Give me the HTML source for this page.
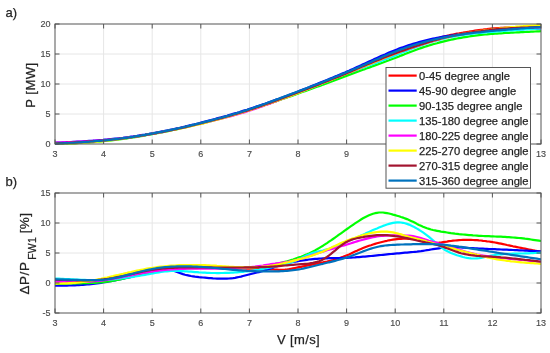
<!DOCTYPE html>
<html><head><meta charset="utf-8"><style>
html,body{margin:0;padding:0;background:#fff;}
body{width:550px;height:353px;overflow:hidden;}
svg{display:block;filter:blur(0.3px);}
text{stroke:#2a2a2a;stroke-width:0.25px;}
text.tk{stroke:#4a4a4a;stroke-width:0.15px;}
</style></head><body>
<svg width="550" height="353" viewBox="0 0 550 353" font-family='"Liberation Sans", Arial, sans-serif'>
<defs>
<clipPath id="c1"><rect x="55.0" y="23" width="486.0" height="122"/></clipPath>
<clipPath id="c2"><rect x="55.0" y="192" width="486.0" height="122"/></clipPath>
</defs>
<rect width="550" height="353" fill="#fff"/>
<text x="5.6" y="16.5" font-size="13" fill="#222">a)</text>
<text x="5.6" y="185.5" font-size="13" fill="#222">b)</text>
<line x1="103.6" y1="24" x2="103.6" y2="144" stroke="#e6e6e6" stroke-width="1"/>
<line x1="152.2" y1="24" x2="152.2" y2="144" stroke="#e6e6e6" stroke-width="1"/>
<line x1="200.8" y1="24" x2="200.8" y2="144" stroke="#e6e6e6" stroke-width="1"/>
<line x1="249.4" y1="24" x2="249.4" y2="144" stroke="#e6e6e6" stroke-width="1"/>
<line x1="298" y1="24" x2="298" y2="144" stroke="#e6e6e6" stroke-width="1"/>
<line x1="346.6" y1="24" x2="346.6" y2="144" stroke="#e6e6e6" stroke-width="1"/>
<line x1="395.2" y1="24" x2="395.2" y2="144" stroke="#e6e6e6" stroke-width="1"/>
<line x1="443.8" y1="24" x2="443.8" y2="144" stroke="#e6e6e6" stroke-width="1"/>
<line x1="492.4" y1="24" x2="492.4" y2="144" stroke="#e6e6e6" stroke-width="1"/>
<line x1="55.0" y1="114" x2="541.0" y2="114" stroke="#e6e6e6" stroke-width="1"/>
<line x1="55.0" y1="84" x2="541.0" y2="84" stroke="#e6e6e6" stroke-width="1"/>
<line x1="55.0" y1="54" x2="541.0" y2="54" stroke="#e6e6e6" stroke-width="1"/>
<g clip-path="url(#c1)" fill="none" stroke-width="2.2" stroke-linejoin="round">
<path d="M55 143.4 L57 143.3 L59 143.2 L61 143.1 L63 143.1 L65 143 L67 142.9 L69 142.8 L71 142.7 L73 142.6 L75 142.4 L77 142.3 L79 142.2 L81 142.1 L83 142 L85 141.8 L87 141.7 L89 141.6 L91 141.4 L93 141.3 L95 141.1 L97 141 L99 140.8 L101 140.6 L103 140.5 L105 140.3 L107 140.1 L109 139.9 L111 139.7 L113 139.5 L115 139.3 L117 139.1 L119 138.8 L121 138.6 L123 138.3 L125 138.1 L127 137.8 L129 137.6 L131 137.3 L133 137 L135 136.7 L137 136.4 L139 136.1 L141 135.7 L143 135.4 L145 135.1 L147 134.7 L149 134.4 L151 134 L153 133.7 L155 133.3 L157 132.9 L159 132.5 L161 132.2 L163 131.8 L165 131.4 L167 131 L169 130.6 L171 130.2 L173 129.7 L175 129.3 L177 128.9 L179 128.4 L181 128 L183 127.5 L185 127.1 L187 126.6 L189 126.1 L191 125.7 L193 125.2 L195 124.7 L197 124.2 L199 123.7 L201 123.3 L203 122.8 L205 122.3 L207 121.8 L209 121.3 L211 120.8 L213 120.3 L215 119.8 L217 119.2 L219 118.7 L221 118.2 L223 117.7 L225 117.1 L227 116.6 L229 116.1 L231 115.5 L233 115 L235 114.4 L237 113.8 L239 113.2 L241 112.7 L243 112.1 L245 111.5 L247 110.8 L249 110.2 L251 109.6 L253 109 L255 108.3 L257 107.6 L259 107 L261 106.3 L263 105.6 L265 104.9 L267 104.3 L269 103.6 L271 102.9 L273 102.1 L275 101.4 L277 100.7 L279 100 L281 99.3 L283 98.6 L285 97.8 L287 97.1 L289 96.4 L291 95.6 L293 94.9 L295 94.1 L297 93.4 L299 92.6 L301 91.9 L303 91.1 L305 90.3 L307 89.6 L309 88.8 L311 88.1 L313 87.3 L315 86.5 L317 85.7 L319 85 L321 84.2 L323 83.4 L325 82.7 L327 81.9 L329 81.1 L331 80.3 L333 79.6 L335 78.8 L337 78 L339 77.2 L341 76.4 L343 75.6 L345 74.8 L347 73.9 L349 73.1 L351 72.3 L353 71.4 L355 70.6 L357 69.7 L359 68.8 L361 68 L363 67.1 L365 66.2 L367 65.3 L369 64.4 L371 63.6 L373 62.7 L375 61.8 L377 60.9 L379 60 L381 59.1 L383 58.3 L385 57.4 L387 56.5 L389 55.7 L391 54.8 L393 54 L395 53.2 L397 52.4 L399 51.6 L401 50.8 L403 50 L405 49.3 L407 48.5 L409 47.8 L411 47.1 L413 46.4 L415 45.7 L417 45 L419 44.3 L421 43.6 L423 42.9 L425 42.2 L427 41.6 L429 40.9 L431 40.3 L433 39.6 L435 39 L437 38.5 L439 37.9 L441 37.3 L443 36.8 L445 36.3 L447 35.8 L449 35.4 L451 34.9 L453 34.5 L455 34.1 L457 33.7 L459 33.4 L461 33 L463 32.7 L465 32.3 L467 32 L469 31.7 L471 31.3 L473 31 L475 30.7 L477 30.4 L479 30.1 L481 29.8 L483 29.6 L485 29.3 L487 29.1 L489 28.8 L491 28.6 L493 28.4 L495 28.3 L497 28.1 L499 28 L501 27.9 L503 27.8 L505 27.7 L507 27.6 L509 27.5 L511 27.5 L513 27.4 L515 27.3 L517 27.3 L519 27.2 L521 27.2 L523 27.1 L525 27.1 L527 27 L529 27 L531 26.9 L533 26.8 L535 26.7 L537 26.6 L539 26.5 L541 26.4" stroke="#ff0000"/>
<path d="M55 142.8 L57 142.7 L59 142.6 L61 142.5 L63 142.4 L65 142.3 L67 142.2 L69 142.1 L71 142 L73 141.9 L75 141.8 L77 141.7 L79 141.6 L81 141.5 L83 141.3 L85 141.2 L87 141.1 L89 140.9 L91 140.8 L93 140.7 L95 140.5 L97 140.3 L99 140.2 L101 140 L103 139.9 L105 139.7 L107 139.5 L109 139.3 L111 139.1 L113 138.9 L115 138.7 L117 138.5 L119 138.3 L121 138 L123 137.8 L125 137.5 L127 137.3 L129 137 L131 136.7 L133 136.5 L135 136.2 L137 135.9 L139 135.5 L141 135.2 L143 134.9 L145 134.6 L147 134.2 L149 133.9 L151 133.5 L153 133.2 L155 132.8 L157 132.4 L159 132.1 L161 131.7 L163 131.3 L165 130.9 L167 130.5 L169 130.1 L171 129.7 L173 129.3 L175 128.8 L177 128.4 L179 128 L181 127.5 L183 127 L185 126.6 L187 126.1 L189 125.6 L191 125.1 L193 124.7 L195 124.2 L197 123.7 L199 123.2 L201 122.6 L203 122.1 L205 121.6 L207 121.1 L209 120.6 L211 120.1 L213 119.5 L215 119 L217 118.4 L219 117.9 L221 117.4 L223 116.8 L225 116.2 L227 115.7 L229 115.1 L231 114.5 L233 113.9 L235 113.3 L237 112.8 L239 112.2 L241 111.5 L243 110.9 L245 110.3 L247 109.7 L249 109 L251 108.4 L253 107.7 L255 107.1 L257 106.4 L259 105.7 L261 105 L263 104.3 L265 103.7 L267 103 L269 102.2 L271 101.5 L273 100.8 L275 100.1 L277 99.4 L279 98.7 L281 97.9 L283 97.2 L285 96.4 L287 95.7 L289 94.9 L291 94.2 L293 93.4 L295 92.7 L297 91.9 L299 91.1 L301 90.3 L303 89.5 L305 88.7 L307 88 L309 87.2 L311 86.3 L313 85.5 L315 84.7 L317 83.9 L319 83.1 L321 82.3 L323 81.5 L325 80.7 L327 79.9 L329 79.1 L331 78.2 L333 77.4 L335 76.6 L337 75.8 L339 74.9 L341 74.1 L343 73.2 L345 72.4 L347 71.5 L349 70.7 L351 69.8 L353 68.9 L355 68 L357 67.1 L359 66.2 L361 65.3 L363 64.3 L365 63.4 L367 62.5 L369 61.6 L371 60.7 L373 59.8 L375 58.8 L377 57.9 L379 57 L381 56.1 L383 55.2 L385 54.4 L387 53.5 L389 52.6 L391 51.8 L393 51 L395 50.2 L397 49.4 L399 48.6 L401 47.9 L403 47.2 L405 46.5 L407 45.8 L409 45.1 L411 44.5 L413 43.9 L415 43.3 L417 42.7 L419 42.1 L421 41.6 L423 41.1 L425 40.6 L427 40.1 L429 39.6 L431 39.1 L433 38.7 L435 38.3 L437 37.9 L439 37.5 L441 37.1 L443 36.7 L445 36.4 L447 36.1 L449 35.8 L451 35.5 L453 35.2 L455 34.9 L457 34.6 L459 34.4 L461 34.1 L463 33.9 L465 33.7 L467 33.4 L469 33.2 L471 33 L473 32.8 L475 32.5 L477 32.3 L479 32.1 L481 31.9 L483 31.7 L485 31.5 L487 31.4 L489 31.2 L491 31 L493 30.9 L495 30.7 L497 30.5 L499 30.4 L501 30.3 L503 30.1 L505 30 L507 29.9 L509 29.8 L511 29.7 L513 29.6 L515 29.5 L517 29.4 L519 29.3 L521 29.2 L523 29.1 L525 29 L527 29 L529 28.9 L531 28.8 L533 28.8 L535 28.7 L537 28.6 L539 28.6 L541 28.5" stroke="#0000ff"/>
<path d="M55 144 L57 144 L59 143.9 L61 143.8 L63 143.8 L65 143.7 L67 143.6 L69 143.5 L71 143.5 L73 143.4 L75 143.3 L77 143.1 L79 143 L81 142.9 L83 142.8 L85 142.7 L87 142.5 L89 142.4 L91 142.2 L93 142.1 L95 141.9 L97 141.7 L99 141.6 L101 141.4 L103 141.2 L105 141 L107 140.8 L109 140.6 L111 140.3 L113 140.1 L115 139.9 L117 139.6 L119 139.4 L121 139.1 L123 138.9 L125 138.6 L127 138.3 L129 138 L131 137.7 L133 137.4 L135 137.1 L137 136.8 L139 136.4 L141 136.1 L143 135.8 L145 135.4 L147 135 L149 134.7 L151 134.3 L153 134 L155 133.6 L157 133.2 L159 132.8 L161 132.4 L163 132.1 L165 131.7 L167 131.3 L169 130.9 L171 130.4 L173 130 L175 129.6 L177 129.2 L179 128.7 L181 128.3 L183 127.8 L185 127.4 L187 126.9 L189 126.5 L191 126 L193 125.5 L195 125 L197 124.5 L199 124 L201 123.6 L203 123.1 L205 122.5 L207 122 L209 121.5 L211 121 L213 120.5 L215 120 L217 119.4 L219 118.9 L221 118.4 L223 117.8 L225 117.3 L227 116.7 L229 116.2 L231 115.6 L233 115 L235 114.4 L237 113.9 L239 113.3 L241 112.7 L243 112.1 L245 111.5 L247 110.8 L249 110.2 L251 109.6 L253 109 L255 108.3 L257 107.7 L259 107 L261 106.3 L263 105.7 L265 105 L267 104.3 L269 103.7 L271 103 L273 102.3 L275 101.6 L277 100.9 L279 100.2 L281 99.5 L283 98.8 L285 98.1 L287 97.5 L289 96.8 L291 96.1 L293 95.4 L295 94.7 L297 94 L299 93.2 L301 92.5 L303 91.8 L305 91.1 L307 90.4 L309 89.7 L311 89 L313 88.3 L315 87.5 L317 86.8 L319 86.1 L321 85.4 L323 84.6 L325 83.9 L327 83.2 L329 82.4 L331 81.7 L333 81 L335 80.2 L337 79.5 L339 78.7 L341 78 L343 77.2 L345 76.5 L347 75.8 L349 75 L351 74.3 L353 73.5 L355 72.8 L357 72 L359 71.3 L361 70.5 L363 69.8 L365 69.1 L367 68.3 L369 67.6 L371 66.9 L373 66.1 L375 65.4 L377 64.7 L379 63.9 L381 63.2 L383 62.5 L385 61.7 L387 61 L389 60.3 L391 59.5 L393 58.7 L395 58 L397 57.2 L399 56.4 L401 55.6 L403 54.9 L405 54.1 L407 53.3 L409 52.5 L411 51.7 L413 51 L415 50.2 L417 49.5 L419 48.8 L421 48.1 L423 47.4 L425 46.7 L427 46.1 L429 45.5 L431 44.9 L433 44.3 L435 43.7 L437 43.2 L439 42.6 L441 42.1 L443 41.6 L445 41.1 L447 40.6 L449 40.2 L451 39.7 L453 39.3 L455 38.9 L457 38.5 L459 38.1 L461 37.8 L463 37.4 L465 37.1 L467 36.8 L469 36.5 L471 36.2 L473 35.9 L475 35.7 L477 35.4 L479 35.2 L481 35 L483 34.7 L485 34.5 L487 34.4 L489 34.2 L491 34 L493 33.9 L495 33.7 L497 33.6 L499 33.4 L501 33.3 L503 33.2 L505 33 L507 32.9 L509 32.8 L511 32.7 L513 32.6 L515 32.5 L517 32.4 L519 32.3 L521 32.2 L523 32.1 L525 32 L527 31.9 L529 31.8 L531 31.7 L533 31.6 L535 31.5 L537 31.4 L539 31.3 L541 31.2" stroke="#00ff00"/>
<path d="M55 143.7 L57 143.6 L59 143.6 L61 143.5 L63 143.4 L65 143.3 L67 143.2 L69 143.1 L71 143 L73 142.9 L75 142.8 L77 142.7 L79 142.6 L81 142.5 L83 142.3 L85 142.2 L87 142.1 L89 141.9 L91 141.8 L93 141.6 L95 141.5 L97 141.3 L99 141.1 L101 140.9 L103 140.8 L105 140.6 L107 140.4 L109 140.2 L111 140 L113 139.7 L115 139.5 L117 139.3 L119 139 L121 138.8 L123 138.5 L125 138.3 L127 138 L129 137.7 L131 137.4 L133 137.1 L135 136.8 L137 136.5 L139 136.2 L141 135.9 L143 135.5 L145 135.2 L147 134.8 L149 134.5 L151 134.1 L153 133.8 L155 133.4 L157 133 L159 132.7 L161 132.3 L163 131.9 L165 131.5 L167 131.1 L169 130.7 L171 130.3 L173 129.9 L175 129.5 L177 129.1 L179 128.7 L181 128.2 L183 127.8 L185 127.3 L187 126.9 L189 126.4 L191 125.9 L193 125.5 L195 125 L197 124.5 L199 124 L201 123.6 L203 123.1 L205 122.6 L207 122.1 L209 121.6 L211 121.1 L213 120.5 L215 120 L217 119.5 L219 119 L221 118.4 L223 117.9 L225 117.4 L227 116.8 L229 116.2 L231 115.7 L233 115.1 L235 114.5 L237 113.9 L239 113.3 L241 112.7 L243 112.1 L245 111.5 L247 110.9 L249 110.2 L251 109.6 L253 108.9 L255 108.2 L257 107.6 L259 106.9 L261 106.2 L263 105.5 L265 104.8 L267 104.1 L269 103.4 L271 102.6 L273 101.9 L275 101.2 L277 100.5 L279 99.7 L281 99 L283 98.3 L285 97.5 L287 96.8 L289 96 L291 95.3 L293 94.6 L295 93.8 L297 93.1 L299 92.3 L301 91.6 L303 90.8 L305 90.1 L307 89.3 L309 88.6 L311 87.8 L313 87.1 L315 86.3 L317 85.5 L319 84.7 L321 83.9 L323 83.1 L325 82.3 L327 81.5 L329 80.7 L331 79.8 L333 79 L335 78.2 L337 77.3 L339 76.5 L341 75.7 L343 74.9 L345 74.1 L347 73.3 L349 72.6 L351 71.9 L353 71.1 L355 70.4 L357 69.7 L359 69 L361 68.3 L363 67.6 L365 66.9 L367 66.2 L369 65.5 L371 64.8 L373 64 L375 63.3 L377 62.6 L379 61.8 L381 61.1 L383 60.3 L385 59.5 L387 58.8 L389 58 L391 57.2 L393 56.4 L395 55.6 L397 54.8 L399 54 L401 53.1 L403 52.3 L405 51.5 L407 50.7 L409 49.9 L411 49.1 L413 48.3 L415 47.6 L417 46.8 L419 46.1 L421 45.4 L423 44.7 L425 44 L427 43.4 L429 42.7 L431 42.1 L433 41.5 L435 41 L437 40.4 L439 39.9 L441 39.4 L443 38.9 L445 38.4 L447 38 L449 37.5 L451 37.1 L453 36.7 L455 36.3 L457 35.9 L459 35.6 L461 35.3 L463 34.9 L465 34.6 L467 34.3 L469 34.1 L471 33.8 L473 33.6 L475 33.4 L477 33.2 L479 33 L481 32.8 L483 32.6 L485 32.4 L487 32.2 L489 32.1 L491 31.9 L493 31.8 L495 31.6 L497 31.4 L499 31.3 L501 31.1 L503 31 L505 30.8 L507 30.7 L509 30.5 L511 30.4 L513 30.3 L515 30.1 L517 30 L519 29.8 L521 29.7 L523 29.6 L525 29.4 L527 29.3 L529 29.2 L531 29.1 L533 29 L535 28.8 L537 28.7 L539 28.6 L541 28.5" stroke="#00ffff"/>
<path d="M55 142.7 L57 142.6 L59 142.5 L61 142.5 L63 142.4 L65 142.3 L67 142.3 L69 142.2 L71 142.1 L73 142 L75 141.9 L77 141.8 L79 141.7 L81 141.6 L83 141.5 L85 141.4 L87 141.3 L89 141.1 L91 141 L93 140.9 L95 140.8 L97 140.6 L99 140.5 L101 140.3 L103 140.1 L105 140 L107 139.8 L109 139.6 L111 139.4 L113 139.3 L115 139.1 L117 138.9 L119 138.6 L121 138.4 L123 138.2 L125 137.9 L127 137.7 L129 137.4 L131 137.2 L133 136.9 L135 136.6 L137 136.3 L139 136 L141 135.7 L143 135.4 L145 135 L147 134.7 L149 134.4 L151 134 L153 133.7 L155 133.3 L157 132.9 L159 132.6 L161 132.2 L163 131.8 L165 131.4 L167 131 L169 130.6 L171 130.2 L173 129.8 L175 129.4 L177 129 L179 128.6 L181 128.1 L183 127.7 L185 127.2 L187 126.8 L189 126.3 L191 125.9 L193 125.4 L195 125 L197 124.5 L199 124 L201 123.6 L203 123.1 L205 122.6 L207 122.1 L209 121.7 L211 121.2 L213 120.7 L215 120.2 L217 119.7 L219 119.2 L221 118.7 L223 118.2 L225 117.7 L227 117.2 L229 116.6 L231 116.1 L233 115.6 L235 115 L237 114.4 L239 113.9 L241 113.3 L243 112.7 L245 112.1 L247 111.5 L249 110.8 L251 110.2 L253 109.5 L255 108.9 L257 108.2 L259 107.5 L261 106.8 L263 106.1 L265 105.3 L267 104.6 L269 103.9 L271 103.1 L273 102.4 L275 101.6 L277 100.9 L279 100.1 L281 99.3 L283 98.6 L285 97.8 L287 97 L289 96.2 L291 95.4 L293 94.7 L295 93.9 L297 93.1 L299 92.3 L301 91.5 L303 90.7 L305 89.9 L307 89.1 L309 88.4 L311 87.6 L313 86.8 L315 86 L317 85.2 L319 84.4 L321 83.6 L323 82.8 L325 82 L327 81.2 L329 80.5 L331 79.7 L333 78.9 L335 78.1 L337 77.3 L339 76.5 L341 75.7 L343 74.9 L345 74.1 L347 73.3 L349 72.5 L351 71.7 L353 70.9 L355 70.1 L357 69.3 L359 68.5 L361 67.7 L363 66.9 L365 66 L367 65.2 L369 64.4 L371 63.6 L373 62.7 L375 61.9 L377 61.1 L379 60.2 L381 59.4 L383 58.6 L385 57.7 L387 56.9 L389 56.1 L391 55.3 L393 54.5 L395 53.8 L397 53 L399 52.3 L401 51.6 L403 50.8 L405 50.1 L407 49.5 L409 48.8 L411 48.1 L413 47.4 L415 46.8 L417 46.1 L419 45.5 L421 44.8 L423 44.2 L425 43.5 L427 42.9 L429 42.3 L431 41.7 L433 41.1 L435 40.5 L437 39.9 L439 39.4 L441 38.8 L443 38.3 L445 37.8 L447 37.3 L449 36.9 L451 36.4 L453 36 L455 35.6 L457 35.2 L459 34.9 L461 34.5 L463 34.1 L465 33.8 L467 33.5 L469 33.2 L471 32.8 L473 32.5 L475 32.2 L477 31.9 L479 31.7 L481 31.4 L483 31.1 L485 30.9 L487 30.6 L489 30.4 L491 30.1 L493 29.9 L495 29.7 L497 29.5 L499 29.4 L501 29.2 L503 29 L505 28.9 L507 28.8 L509 28.6 L511 28.5 L513 28.4 L515 28.3 L517 28.2 L519 28.1 L521 28 L523 27.9 L525 27.8 L527 27.8 L529 27.7 L531 27.6 L533 27.6 L535 27.5 L537 27.4 L539 27.4 L541 27.3" stroke="#ff00ff"/>
<path d="M55 143.7 L57 143.7 L59 143.7 L61 143.7 L63 143.6 L65 143.6 L67 143.5 L69 143.5 L71 143.4 L73 143.3 L75 143.2 L77 143.1 L79 143 L81 142.9 L83 142.8 L85 142.6 L87 142.5 L89 142.3 L91 142.2 L93 142 L95 141.8 L97 141.7 L99 141.5 L101 141.3 L103 141.1 L105 140.9 L107 140.6 L109 140.4 L111 140.2 L113 139.9 L115 139.7 L117 139.4 L119 139.2 L121 138.9 L123 138.6 L125 138.3 L127 138 L129 137.7 L131 137.4 L133 137.1 L135 136.8 L137 136.4 L139 136.1 L141 135.8 L143 135.4 L145 135.1 L147 134.7 L149 134.4 L151 134 L153 133.7 L155 133.3 L157 132.9 L159 132.6 L161 132.2 L163 131.9 L165 131.5 L167 131.1 L169 130.8 L171 130.4 L173 130 L175 129.6 L177 129.2 L179 128.8 L181 128.4 L183 128 L185 127.5 L187 127.1 L189 126.7 L191 126.2 L193 125.7 L195 125.3 L197 124.8 L199 124.3 L201 123.9 L203 123.4 L205 122.9 L207 122.4 L209 121.8 L211 121.3 L213 120.8 L215 120.3 L217 119.7 L219 119.2 L221 118.6 L223 118.1 L225 117.5 L227 116.9 L229 116.4 L231 115.8 L233 115.2 L235 114.6 L237 114 L239 113.4 L241 112.8 L243 112.1 L245 111.5 L247 110.9 L249 110.2 L251 109.6 L253 108.9 L255 108.3 L257 107.6 L259 106.9 L261 106.3 L263 105.6 L265 104.9 L267 104.2 L269 103.5 L271 102.8 L273 102.1 L275 101.4 L277 100.7 L279 100 L281 99.3 L283 98.6 L285 97.8 L287 97.1 L289 96.4 L291 95.6 L293 94.9 L295 94.1 L297 93.4 L299 92.6 L301 91.9 L303 91.1 L305 90.3 L307 89.5 L309 88.7 L311 87.9 L313 87.1 L315 86.3 L317 85.5 L319 84.7 L321 83.9 L323 83.1 L325 82.3 L327 81.5 L329 80.7 L331 79.9 L333 79 L335 78.2 L337 77.4 L339 76.6 L341 75.8 L343 75 L345 74.2 L347 73.3 L349 72.5 L351 71.7 L353 70.9 L355 70.1 L357 69.3 L359 68.5 L361 67.6 L363 66.8 L365 66 L367 65.2 L369 64.4 L371 63.6 L373 62.7 L375 61.9 L377 61.1 L379 60.3 L381 59.4 L383 58.6 L385 57.8 L387 57 L389 56.2 L391 55.4 L393 54.6 L395 53.8 L397 53 L399 52.2 L401 51.5 L403 50.7 L405 50 L407 49.3 L409 48.6 L411 47.9 L413 47.2 L415 46.5 L417 45.8 L419 45.2 L421 44.5 L423 43.9 L425 43.3 L427 42.7 L429 42.1 L431 41.5 L433 40.9 L435 40.4 L437 39.8 L439 39.3 L441 38.8 L443 38.3 L445 37.8 L447 37.3 L449 36.9 L451 36.4 L453 36 L455 35.5 L457 35.1 L459 34.7 L461 34.3 L463 33.9 L465 33.6 L467 33.2 L469 32.8 L471 32.5 L473 32.2 L475 31.9 L477 31.5 L479 31.2 L481 30.9 L483 30.7 L485 30.4 L487 30.1 L489 29.8 L491 29.6 L493 29.3 L495 29.1 L497 28.8 L499 28.6 L501 28.3 L503 28.1 L505 27.9 L507 27.7 L509 27.5 L511 27.2 L513 27 L515 26.9 L517 26.7 L519 26.5 L521 26.3 L523 26.2 L525 26 L527 25.9 L529 25.8 L531 25.6 L533 25.5 L535 25.4 L537 25.3 L539 25.3 L541 25.2" stroke="#ffff00"/>
<path d="M55 143.4 L57 143.3 L59 143.2 L61 143.1 L63 143.1 L65 143 L67 142.9 L69 142.8 L71 142.7 L73 142.6 L75 142.4 L77 142.3 L79 142.2 L81 142.1 L83 142 L85 141.8 L87 141.7 L89 141.6 L91 141.4 L93 141.3 L95 141.1 L97 141 L99 140.8 L101 140.6 L103 140.5 L105 140.3 L107 140.1 L109 139.9 L111 139.7 L113 139.5 L115 139.3 L117 139.1 L119 138.8 L121 138.6 L123 138.3 L125 138.1 L127 137.8 L129 137.5 L131 137.3 L133 137 L135 136.7 L137 136.4 L139 136.1 L141 135.7 L143 135.4 L145 135.1 L147 134.7 L149 134.4 L151 134 L153 133.7 L155 133.3 L157 132.9 L159 132.5 L161 132.2 L163 131.8 L165 131.4 L167 131 L169 130.6 L171 130.2 L173 129.7 L175 129.3 L177 128.9 L179 128.5 L181 128 L183 127.6 L185 127.1 L187 126.6 L189 126.2 L191 125.7 L193 125.2 L195 124.7 L197 124.2 L199 123.7 L201 123.3 L203 122.8 L205 122.3 L207 121.8 L209 121.2 L211 120.7 L213 120.2 L215 119.7 L217 119.2 L219 118.6 L221 118.1 L223 117.6 L225 117 L227 116.5 L229 115.9 L231 115.4 L233 114.8 L235 114.2 L237 113.6 L239 113 L241 112.4 L243 111.8 L245 111.2 L247 110.6 L249 109.9 L251 109.3 L253 108.6 L255 108 L257 107.3 L259 106.6 L261 105.9 L263 105.2 L265 104.5 L267 103.8 L269 103.1 L271 102.4 L273 101.6 L275 100.9 L277 100.2 L279 99.5 L281 98.7 L283 98 L285 97.2 L287 96.5 L289 95.8 L291 95 L293 94.3 L295 93.5 L297 92.8 L299 92 L301 91.3 L303 90.5 L305 89.8 L307 89 L309 88.2 L311 87.5 L313 86.7 L315 85.9 L317 85.2 L319 84.4 L321 83.6 L323 82.8 L325 82 L327 81.2 L329 80.4 L331 79.6 L333 78.8 L335 78 L337 77.2 L339 76.4 L341 75.5 L343 74.7 L345 73.9 L347 73 L349 72.2 L351 71.4 L353 70.5 L355 69.7 L357 68.8 L359 68 L361 67.1 L363 66.3 L365 65.5 L367 64.6 L369 63.8 L371 63 L373 62.1 L375 61.3 L377 60.5 L379 59.7 L381 58.9 L383 58.1 L385 57.3 L387 56.5 L389 55.7 L391 55 L393 54.2 L395 53.5 L397 52.7 L399 52 L401 51.3 L403 50.6 L405 49.9 L407 49.2 L409 48.5 L411 47.8 L413 47.1 L415 46.5 L417 45.8 L419 45.2 L421 44.5 L423 43.9 L425 43.2 L427 42.6 L429 42 L431 41.4 L433 40.8 L435 40.2 L437 39.6 L439 39.1 L441 38.5 L443 38 L445 37.5 L447 37 L449 36.6 L451 36.1 L453 35.7 L455 35.3 L457 34.9 L459 34.6 L461 34.2 L463 33.9 L465 33.5 L467 33.2 L469 32.9 L471 32.5 L473 32.2 L475 31.9 L477 31.6 L479 31.3 L481 31.1 L483 30.8 L485 30.6 L487 30.3 L489 30.1 L491 29.8 L493 29.6 L495 29.4 L497 29.2 L499 29.1 L501 28.9 L503 28.7 L505 28.6 L507 28.5 L509 28.3 L511 28.2 L513 28.1 L515 28 L517 27.9 L519 27.8 L521 27.7 L523 27.6 L525 27.5 L527 27.5 L529 27.4 L531 27.3 L533 27.3 L535 27.2 L537 27.1 L539 27.1 L541 27" stroke="#a2142f"/>
<path d="M55 143.7 L57 143.6 L59 143.5 L61 143.4 L63 143.3 L65 143.2 L67 143.1 L69 143 L71 142.9 L73 142.8 L75 142.7 L77 142.5 L79 142.4 L81 142.3 L83 142.1 L85 142 L87 141.8 L89 141.7 L91 141.5 L93 141.4 L95 141.2 L97 141 L99 140.8 L101 140.7 L103 140.5 L105 140.3 L107 140.1 L109 139.8 L111 139.6 L113 139.4 L115 139.2 L117 138.9 L119 138.7 L121 138.4 L123 138.2 L125 137.9 L127 137.6 L129 137.4 L131 137.1 L133 136.8 L135 136.4 L137 136.1 L139 135.8 L141 135.5 L143 135.1 L145 134.8 L147 134.4 L149 134.1 L151 133.7 L153 133.4 L155 133 L157 132.6 L159 132.2 L161 131.9 L163 131.5 L165 131.1 L167 130.7 L169 130.3 L171 129.9 L173 129.4 L175 129 L177 128.6 L179 128.2 L181 127.7 L183 127.3 L185 126.8 L187 126.3 L189 125.9 L191 125.4 L193 124.9 L195 124.4 L197 123.9 L199 123.4 L201 123 L203 122.4 L205 121.9 L207 121.4 L209 120.9 L211 120.4 L213 119.9 L215 119.3 L217 118.8 L219 118.3 L221 117.7 L223 117.2 L225 116.6 L227 116.1 L229 115.5 L231 114.9 L233 114.3 L235 113.7 L237 113.1 L239 112.5 L241 111.9 L243 111.3 L245 110.6 L247 110 L249 109.3 L251 108.7 L253 108 L255 107.3 L257 106.6 L259 105.9 L261 105.2 L263 104.5 L265 103.8 L267 103.1 L269 102.3 L271 101.6 L273 100.9 L275 100.1 L277 99.4 L279 98.6 L281 97.9 L283 97.1 L285 96.4 L287 95.6 L289 94.9 L291 94.1 L293 93.4 L295 92.6 L297 91.9 L299 91.1 L301 90.4 L303 89.6 L305 88.9 L307 88.1 L309 87.3 L311 86.6 L313 85.8 L315 85 L317 84.3 L319 83.5 L321 82.7 L323 81.9 L325 81.1 L327 80.3 L329 79.5 L331 78.7 L333 77.9 L335 77.1 L337 76.3 L339 75.5 L341 74.6 L343 73.8 L345 73 L347 72.1 L349 71.3 L351 70.5 L353 69.6 L355 68.8 L357 67.9 L359 67.1 L361 66.2 L363 65.3 L365 64.5 L367 63.6 L369 62.7 L371 61.9 L373 61 L375 60.1 L377 59.3 L379 58.4 L381 57.5 L383 56.6 L385 55.8 L387 54.9 L389 54.1 L391 53.3 L393 52.5 L395 51.7 L397 50.9 L399 50.1 L401 49.4 L403 48.7 L405 48 L407 47.3 L409 46.6 L411 46 L413 45.3 L415 44.7 L417 44.1 L419 43.5 L421 43 L423 42.4 L425 41.9 L427 41.3 L429 40.8 L431 40.3 L433 39.8 L435 39.4 L437 38.9 L439 38.5 L441 38.1 L443 37.7 L445 37.3 L447 36.9 L449 36.5 L451 36.2 L453 35.8 L455 35.5 L457 35.2 L459 34.9 L461 34.6 L463 34.3 L465 34 L467 33.7 L469 33.5 L471 33.2 L473 33 L475 32.7 L477 32.5 L479 32.3 L481 32.1 L483 31.8 L485 31.6 L487 31.4 L489 31.2 L491 31 L493 30.8 L495 30.7 L497 30.5 L499 30.3 L501 30.1 L503 29.9 L505 29.8 L507 29.6 L509 29.4 L511 29.3 L513 29.1 L515 28.9 L517 28.8 L519 28.6 L521 28.5 L523 28.3 L525 28.2 L527 28 L529 27.9 L531 27.7 L533 27.6 L535 27.4 L537 27.3 L539 27.1 L541 27" stroke="#0072bd"/>
</g>
<rect x="55.0" y="24" width="486.0" height="120" fill="none" stroke="#555555" stroke-width="1"/>
<line x1="55" y1="144" x2="55" y2="139.5" stroke="#555555"/>
<line x1="55" y1="24" x2="55" y2="28.5" stroke="#555555"/>
<line x1="103.6" y1="144" x2="103.6" y2="139.5" stroke="#555555"/>
<line x1="103.6" y1="24" x2="103.6" y2="28.5" stroke="#555555"/>
<line x1="152.2" y1="144" x2="152.2" y2="139.5" stroke="#555555"/>
<line x1="152.2" y1="24" x2="152.2" y2="28.5" stroke="#555555"/>
<line x1="200.8" y1="144" x2="200.8" y2="139.5" stroke="#555555"/>
<line x1="200.8" y1="24" x2="200.8" y2="28.5" stroke="#555555"/>
<line x1="249.4" y1="144" x2="249.4" y2="139.5" stroke="#555555"/>
<line x1="249.4" y1="24" x2="249.4" y2="28.5" stroke="#555555"/>
<line x1="298" y1="144" x2="298" y2="139.5" stroke="#555555"/>
<line x1="298" y1="24" x2="298" y2="28.5" stroke="#555555"/>
<line x1="346.6" y1="144" x2="346.6" y2="139.5" stroke="#555555"/>
<line x1="346.6" y1="24" x2="346.6" y2="28.5" stroke="#555555"/>
<line x1="395.2" y1="144" x2="395.2" y2="139.5" stroke="#555555"/>
<line x1="395.2" y1="24" x2="395.2" y2="28.5" stroke="#555555"/>
<line x1="443.8" y1="144" x2="443.8" y2="139.5" stroke="#555555"/>
<line x1="443.8" y1="24" x2="443.8" y2="28.5" stroke="#555555"/>
<line x1="492.4" y1="144" x2="492.4" y2="139.5" stroke="#555555"/>
<line x1="492.4" y1="24" x2="492.4" y2="28.5" stroke="#555555"/>
<line x1="541" y1="144" x2="541" y2="139.5" stroke="#555555"/>
<line x1="541" y1="24" x2="541" y2="28.5" stroke="#555555"/>
<line x1="55.0" y1="144" x2="59.5" y2="144" stroke="#555555"/>
<line x1="541.0" y1="144" x2="536.5" y2="144" stroke="#555555"/>
<line x1="55.0" y1="114" x2="59.5" y2="114" stroke="#555555"/>
<line x1="541.0" y1="114" x2="536.5" y2="114" stroke="#555555"/>
<line x1="55.0" y1="84" x2="59.5" y2="84" stroke="#555555"/>
<line x1="541.0" y1="84" x2="536.5" y2="84" stroke="#555555"/>
<line x1="55.0" y1="54" x2="59.5" y2="54" stroke="#555555"/>
<line x1="541.0" y1="54" x2="536.5" y2="54" stroke="#555555"/>
<line x1="55.0" y1="24" x2="59.5" y2="24" stroke="#555555"/>
<line x1="541.0" y1="24" x2="536.5" y2="24" stroke="#555555"/>
<text x="55" y="157.3" text-anchor="middle" font-size="9" fill="#4a4a4a" class="tk">3</text>
<text x="103.6" y="157.3" text-anchor="middle" font-size="9" fill="#4a4a4a" class="tk">4</text>
<text x="152.2" y="157.3" text-anchor="middle" font-size="9" fill="#4a4a4a" class="tk">5</text>
<text x="200.8" y="157.3" text-anchor="middle" font-size="9" fill="#4a4a4a" class="tk">6</text>
<text x="249.4" y="157.3" text-anchor="middle" font-size="9" fill="#4a4a4a" class="tk">7</text>
<text x="298" y="157.3" text-anchor="middle" font-size="9" fill="#4a4a4a" class="tk">8</text>
<text x="346.6" y="157.3" text-anchor="middle" font-size="9" fill="#4a4a4a" class="tk">9</text>
<text x="395.2" y="157.3" text-anchor="middle" font-size="9" fill="#4a4a4a" class="tk">10</text>
<text x="443.8" y="157.3" text-anchor="middle" font-size="9" fill="#4a4a4a" class="tk">11</text>
<text x="492.4" y="157.3" text-anchor="middle" font-size="9" fill="#4a4a4a" class="tk">12</text>
<text x="541" y="157.3" text-anchor="middle" font-size="9" fill="#4a4a4a" class="tk">13</text>
<text x="50.5" y="147.4" text-anchor="end" font-size="9" fill="#4a4a4a" class="tk">0</text>
<text x="50.5" y="117.4" text-anchor="end" font-size="9" fill="#4a4a4a" class="tk">5</text>
<text x="50.5" y="87.4" text-anchor="end" font-size="9" fill="#4a4a4a" class="tk">10</text>
<text x="50.5" y="57.4" text-anchor="end" font-size="9" fill="#4a4a4a" class="tk">15</text>
<text x="50.5" y="27.4" text-anchor="end" font-size="9" fill="#4a4a4a" class="tk">20</text>
<line x1="103.6" y1="193" x2="103.6" y2="313" stroke="#e6e6e6" stroke-width="1"/>
<line x1="152.2" y1="193" x2="152.2" y2="313" stroke="#e6e6e6" stroke-width="1"/>
<line x1="200.8" y1="193" x2="200.8" y2="313" stroke="#e6e6e6" stroke-width="1"/>
<line x1="249.4" y1="193" x2="249.4" y2="313" stroke="#e6e6e6" stroke-width="1"/>
<line x1="298" y1="193" x2="298" y2="313" stroke="#e6e6e6" stroke-width="1"/>
<line x1="346.6" y1="193" x2="346.6" y2="313" stroke="#e6e6e6" stroke-width="1"/>
<line x1="395.2" y1="193" x2="395.2" y2="313" stroke="#e6e6e6" stroke-width="1"/>
<line x1="443.8" y1="193" x2="443.8" y2="313" stroke="#e6e6e6" stroke-width="1"/>
<line x1="492.4" y1="193" x2="492.4" y2="313" stroke="#e6e6e6" stroke-width="1"/>
<line x1="55.0" y1="283" x2="541.0" y2="283" stroke="#e6e6e6" stroke-width="1"/>
<line x1="55.0" y1="253" x2="541.0" y2="253" stroke="#e6e6e6" stroke-width="1"/>
<line x1="55.0" y1="223" x2="541.0" y2="223" stroke="#e6e6e6" stroke-width="1"/>
<g clip-path="url(#c2)" fill="none" stroke-width="2.2" stroke-linejoin="round">
<path d="M55 282.1 L57 282.2 L59 282.2 L61 282.3 L63 282.3 L65 282.3 L67 282.4 L69 282.4 L71 282.4 L73 282.4 L75 282.4 L77 282.4 L79 282.4 L81 282.4 L83 282.3 L85 282.2 L87 282.1 L89 282 L91 281.9 L93 281.8 L95 281.6 L97 281.4 L99 281.2 L101 281 L103 280.7 L105 280.4 L107 280.1 L109 279.7 L111 279.4 L113 279 L115 278.6 L117 278.1 L119 277.7 L121 277.3 L123 276.8 L125 276.3 L127 275.9 L129 275.4 L131 274.9 L133 274.5 L135 274 L137 273.5 L139 273.1 L141 272.6 L143 272.2 L145 271.8 L147 271.4 L149 271 L151 270.6 L153 270.3 L155 269.9 L157 269.6 L159 269.4 L161 269.1 L163 268.9 L165 268.7 L167 268.5 L169 268.3 L171 268.1 L173 268 L175 267.9 L177 267.8 L179 267.7 L181 267.6 L183 267.5 L185 267.5 L187 267.4 L189 267.4 L191 267.4 L193 267.4 L195 267.4 L197 267.4 L199 267.4 L201 267.4 L203 267.4 L205 267.5 L207 267.5 L209 267.5 L211 267.6 L213 267.6 L215 267.7 L217 267.7 L219 267.8 L221 267.8 L223 267.9 L225 268 L227 268 L229 268.1 L231 268.1 L233 268.2 L235 268.3 L237 268.3 L239 268.4 L241 268.4 L243 268.5 L245 268.5 L247 268.6 L249 268.6 L251 268.6 L253 268.7 L255 268.7 L257 268.7 L259 268.7 L261 268.8 L263 268.9 L265 268.9 L267 269 L269 269.1 L271 269.3 L273 269.4 L275 269.6 L277 269.7 L279 269.8 L281 269.9 L283 269.8 L285 269.7 L287 269.5 L289 269.2 L291 268.8 L293 268.4 L295 268 L297 267.6 L299 267.2 L301 266.8 L303 266.4 L305 266 L307 265.6 L309 265.2 L311 264.8 L313 264.4 L315 264 L317 263.6 L319 263.2 L321 262.8 L323 262.4 L325 261.9 L327 261.5 L329 261 L331 260.5 L333 260 L335 259.4 L337 258.8 L339 258.2 L341 257.5 L343 256.8 L345 256 L347 255.2 L349 254.4 L351 253.5 L353 252.5 L355 251.6 L357 250.7 L359 249.7 L361 248.9 L363 248.1 L365 247.3 L367 246.5 L369 245.8 L371 245.2 L373 244.5 L375 243.9 L377 243.3 L379 242.7 L381 242.2 L383 241.7 L385 241.2 L387 240.8 L389 240.3 L391 240 L393 239.7 L395 239.4 L397 239.1 L399 239 L401 238.8 L403 238.7 L405 238.7 L407 238.7 L409 238.8 L411 239 L413 239.2 L415 239.5 L417 239.8 L419 240.2 L421 240.5 L423 240.9 L425 241.3 L427 241.7 L429 242.1 L431 242.4 L433 242.6 L435 242.8 L437 242.8 L439 242.7 L441 242.5 L443 242.2 L445 241.9 L447 241.6 L449 241.2 L451 241 L453 240.7 L455 240.5 L457 240.3 L459 240.1 L461 240 L463 239.9 L465 239.9 L467 239.9 L469 239.9 L471 239.9 L473 240 L475 240.1 L477 240.2 L479 240.4 L481 240.5 L483 240.8 L485 241 L487 241.3 L489 241.5 L491 241.8 L493 242.2 L495 242.5 L497 242.9 L499 243.3 L501 243.7 L503 244.1 L505 244.5 L507 245 L509 245.4 L511 245.8 L513 246.3 L515 246.7 L517 247.1 L519 247.5 L521 247.9 L523 248.3 L525 248.7 L527 249.1 L529 249.5 L531 249.9 L533 250.3 L535 250.7 L537 251 L539 251.4 L541 251.8" stroke="#ff0000"/>
<path d="M55 285.7 L57 285.7 L59 285.7 L61 285.7 L63 285.6 L65 285.6 L67 285.6 L69 285.5 L71 285.5 L73 285.4 L75 285.3 L77 285.2 L79 285.1 L81 285 L83 284.8 L85 284.7 L87 284.5 L89 284.3 L91 284.1 L93 283.9 L95 283.6 L97 283.4 L99 283.1 L101 282.8 L103 282.5 L105 282.2 L107 281.8 L109 281.5 L111 281.1 L113 280.7 L115 280.3 L117 279.9 L119 279.5 L121 279.1 L123 278.7 L125 278.2 L127 277.8 L129 277.4 L131 276.9 L133 276.4 L135 276 L137 275.5 L139 275 L141 274.5 L143 274 L145 273.5 L147 273 L149 272.5 L151 271.9 L153 271.4 L155 270.8 L157 270.3 L159 269.8 L161 269.5 L163 269.2 L165 269.2 L167 269.4 L169 269.7 L171 270.1 L173 270.7 L175 271.3 L177 272 L179 272.7 L181 273.4 L183 274.1 L185 274.7 L187 275.2 L189 275.6 L191 276 L193 276.3 L195 276.6 L197 276.8 L199 277.1 L201 277.3 L203 277.5 L205 277.7 L207 277.9 L209 278.1 L211 278.2 L213 278.4 L215 278.5 L217 278.6 L219 278.7 L221 278.7 L223 278.7 L225 278.7 L227 278.6 L229 278.5 L231 278.3 L233 278.1 L235 277.8 L237 277.4 L239 277 L241 276.6 L243 276 L245 275.5 L247 275 L249 274.5 L251 274 L253 273.5 L255 273 L257 272.5 L259 272.1 L261 271.5 L263 271 L265 270.4 L267 269.7 L269 269 L271 268.3 L273 267.6 L275 266.8 L277 266.1 L279 265.5 L281 264.8 L283 264.3 L285 263.8 L287 263.3 L289 262.8 L291 262.4 L293 262 L295 261.7 L297 261.3 L299 261 L301 260.6 L303 260.3 L305 260.1 L307 259.8 L309 259.5 L311 259.3 L313 259.1 L315 258.9 L317 258.8 L319 258.6 L321 258.5 L323 258.4 L325 258.3 L327 258.3 L329 258.2 L331 258.2 L333 258.1 L335 258.1 L337 258 L339 258 L341 258 L343 257.9 L345 257.9 L347 257.8 L349 257.7 L351 257.6 L353 257.5 L355 257.4 L357 257.2 L359 257.1 L361 256.9 L363 256.7 L365 256.6 L367 256.4 L369 256.2 L371 256 L373 255.8 L375 255.6 L377 255.4 L379 255.2 L381 255 L383 254.8 L385 254.6 L387 254.4 L389 254.2 L391 254 L393 253.8 L395 253.6 L397 253.4 L399 253.3 L401 253.1 L403 252.9 L405 252.7 L407 252.6 L409 252.4 L411 252.2 L413 252 L415 251.8 L417 251.6 L419 251.3 L421 251.1 L423 250.8 L425 250.5 L427 250.2 L429 249.9 L431 249.5 L433 249.2 L435 248.9 L437 248.6 L439 248.3 L441 248 L443 247.8 L445 247.6 L447 247.5 L449 247.4 L451 247.4 L453 247.3 L455 247.3 L457 247.4 L459 247.4 L461 247.5 L463 247.6 L465 247.7 L467 247.8 L469 248 L471 248.1 L473 248.2 L475 248.3 L477 248.4 L479 248.5 L481 248.6 L483 248.7 L485 248.8 L487 248.9 L489 249 L491 249 L493 249.1 L495 249.2 L497 249.3 L499 249.4 L501 249.5 L503 249.6 L505 249.6 L507 249.7 L509 249.8 L511 249.9 L513 250 L515 250.1 L517 250.2 L519 250.3 L521 250.4 L523 250.5 L525 250.6 L527 250.7 L529 250.8 L531 250.9 L533 251 L535 251.1 L537 251.2 L539 251.3 L541 251.4" stroke="#0000ff"/>
<path d="M55 283.9 L57 283.8 L59 283.8 L61 283.7 L63 283.7 L65 283.6 L67 283.6 L69 283.5 L71 283.5 L73 283.4 L75 283.4 L77 283.3 L79 283.3 L81 283.3 L83 283.2 L85 283.2 L87 283.1 L89 283.1 L91 283 L93 282.9 L95 282.8 L97 282.7 L99 282.5 L101 282.4 L103 282.2 L105 281.9 L107 281.7 L109 281.4 L111 281.1 L113 280.7 L115 280.3 L117 280 L119 279.6 L121 279.1 L123 278.7 L125 278.3 L127 277.8 L129 277.3 L131 276.9 L133 276.4 L135 275.9 L137 275.5 L139 275 L141 274.5 L143 274.1 L145 273.7 L147 273.2 L149 272.8 L151 272.4 L153 272.1 L155 271.7 L157 271.4 L159 271 L161 270.8 L163 270.5 L165 270.2 L167 270 L169 269.7 L171 269.5 L173 269.3 L175 269.2 L177 269 L179 268.8 L181 268.7 L183 268.6 L185 268.5 L187 268.4 L189 268.3 L191 268.2 L193 268.2 L195 268.1 L197 268.1 L199 268 L201 268 L203 268 L205 268 L207 268 L209 268 L211 268 L213 268 L215 268 L217 268 L219 268 L221 268 L223 268 L225 268 L227 268 L229 268 L231 268 L233 268 L235 267.9 L237 267.9 L239 267.9 L241 267.8 L243 267.7 L245 267.6 L247 267.5 L249 267.4 L251 267.3 L253 267.1 L255 267 L257 266.8 L259 266.6 L261 266.4 L263 266.1 L265 265.8 L267 265.5 L269 265.2 L271 264.9 L273 264.5 L275 264.1 L277 263.7 L279 263.3 L281 262.8 L283 262.3 L285 261.8 L287 261.3 L289 260.7 L291 260.1 L293 259.5 L295 258.8 L297 258.1 L299 257.4 L301 256.7 L303 255.9 L305 255.1 L307 254.3 L309 253.4 L311 252.4 L313 251.4 L315 250.4 L317 249.3 L319 248.1 L321 246.9 L323 245.7 L325 244.4 L327 243.1 L329 241.7 L331 240.4 L333 239 L335 237.6 L337 236.2 L339 234.7 L341 233.3 L343 231.9 L345 230.4 L347 229 L349 227.6 L351 226.2 L353 224.8 L355 223.4 L357 222.1 L359 220.8 L361 219.5 L363 218.3 L365 217.2 L367 216.2 L369 215.3 L371 214.5 L373 213.8 L375 213.2 L377 212.8 L379 212.5 L381 212.5 L383 212.5 L385 212.8 L387 213.1 L389 213.5 L391 214 L393 214.6 L395 215.1 L397 215.7 L399 216.3 L401 217 L403 217.6 L405 218.4 L407 219.1 L409 220 L411 220.9 L413 221.8 L415 222.8 L417 223.9 L419 224.9 L421 225.8 L423 226.7 L425 227.5 L427 228.3 L429 228.9 L431 229.5 L433 230 L435 230.4 L437 230.8 L439 231.2 L441 231.6 L443 231.9 L445 232.2 L447 232.5 L449 232.8 L451 233.1 L453 233.3 L455 233.6 L457 233.8 L459 234.1 L461 234.3 L463 234.5 L465 234.7 L467 234.9 L469 235.1 L471 235.2 L473 235.4 L475 235.5 L477 235.6 L479 235.8 L481 235.9 L483 236 L485 236.1 L487 236.2 L489 236.2 L491 236.3 L493 236.4 L495 236.5 L497 236.6 L499 236.7 L501 236.7 L503 236.8 L505 236.9 L507 237.1 L509 237.2 L511 237.3 L513 237.5 L515 237.6 L517 237.8 L519 238 L521 238.2 L523 238.4 L525 238.7 L527 238.9 L529 239.2 L531 239.5 L533 239.8 L535 240.1 L537 240.4 L539 240.7 L541 241" stroke="#00ff00"/>
<path d="M55 278.5 L57 278.6 L59 278.7 L61 278.8 L63 278.9 L65 279 L67 279.1 L69 279.2 L71 279.3 L73 279.4 L75 279.5 L77 279.6 L79 279.7 L81 279.8 L83 279.9 L85 279.9 L87 280 L89 280.1 L91 280.1 L93 280.1 L95 280.1 L97 280.1 L99 280.1 L101 280.1 L103 280 L105 279.9 L107 279.8 L109 279.7 L111 279.5 L113 279.4 L115 279.2 L117 279 L119 278.7 L121 278.5 L123 278.2 L125 278 L127 277.7 L129 277.4 L131 277.1 L133 276.8 L135 276.5 L137 276.1 L139 275.8 L141 275.5 L143 275.1 L145 274.8 L147 274.4 L149 274.1 L151 273.7 L153 273.4 L155 273 L157 272.7 L159 272.3 L161 272 L163 271.7 L165 271.5 L167 271.3 L169 271.1 L171 271 L173 271 L175 270.9 L177 271 L179 271 L181 271.1 L183 271.2 L185 271.3 L187 271.4 L189 271.6 L191 271.7 L193 271.9 L195 272.1 L197 272.2 L199 272.4 L201 272.5 L203 272.6 L205 272.7 L207 272.8 L209 272.9 L211 273 L213 273 L215 273 L217 273.1 L219 273.1 L221 273 L223 273 L225 272.9 L227 272.9 L229 272.8 L231 272.7 L233 272.6 L235 272.4 L237 272.3 L239 272.1 L241 272 L243 271.8 L245 271.5 L247 271.3 L249 271.1 L251 270.8 L253 270.5 L255 270.2 L257 269.9 L259 269.6 L261 269.2 L263 268.9 L265 268.5 L267 268.1 L269 267.7 L271 267.3 L273 266.9 L275 266.5 L277 266.1 L279 265.7 L281 265.2 L283 264.7 L285 264.2 L287 263.6 L289 263 L291 262.4 L293 261.7 L295 260.9 L297 260 L299 259.1 L301 258.2 L303 257.2 L305 256.2 L307 255.2 L309 254.4 L311 253.6 L313 252.9 L315 252.4 L317 251.9 L319 251.4 L321 250.9 L323 250.5 L325 249.9 L327 249.3 L329 248.7 L331 248 L333 247.2 L335 246.4 L337 245.6 L339 244.8 L341 243.9 L343 243.1 L345 242.3 L347 241.4 L349 240.6 L351 239.9 L353 239.1 L355 238.2 L357 237.4 L359 236.5 L361 235.6 L363 234.7 L365 233.8 L367 232.8 L369 231.9 L371 231 L373 230.1 L375 229.2 L377 228.4 L379 227.5 L381 226.7 L383 225.9 L385 225.2 L387 224.5 L389 223.9 L391 223.4 L393 222.9 L395 222.6 L397 222.4 L399 222.4 L401 222.5 L403 222.8 L405 223.3 L407 223.9 L409 224.6 L411 225.5 L413 226.4 L415 227.5 L417 228.6 L419 229.8 L421 231.1 L423 232.4 L425 233.8 L427 235.3 L429 236.9 L431 238.6 L433 240.3 L435 242.1 L437 243.8 L439 245.6 L441 247.2 L443 248.7 L445 250 L447 251.1 L449 252.1 L451 253 L453 253.8 L455 254.5 L457 255.2 L459 255.8 L461 256.4 L463 257 L465 257.5 L467 257.9 L469 258.2 L471 258.4 L473 258.5 L475 258.5 L477 258.3 L479 258.1 L481 257.8 L483 257.4 L485 256.9 L487 256.5 L489 256.1 L491 255.7 L493 255.3 L495 255 L497 254.7 L499 254.5 L501 254.3 L503 254.1 L505 254 L507 253.9 L509 253.8 L511 253.8 L513 253.7 L515 253.7 L517 253.6 L519 253.6 L521 253.5 L523 253.5 L525 253.4 L527 253.3 L529 253.3 L531 253.2 L533 253.1 L535 253 L537 252.9 L539 252.8 L541 252.7" stroke="#00ffff"/>
<path d="M55 282.1 L57 282.1 L59 282.2 L61 282.2 L63 282.2 L65 282.2 L67 282.2 L69 282.2 L71 282.2 L73 282.2 L75 282.2 L77 282.2 L79 282.1 L81 282.1 L83 282 L85 281.9 L87 281.8 L89 281.7 L91 281.6 L93 281.4 L95 281.2 L97 281.1 L99 280.9 L101 280.6 L103 280.4 L105 280.1 L107 279.8 L109 279.5 L111 279.2 L113 278.8 L115 278.5 L117 278.1 L119 277.7 L121 277.3 L123 277 L125 276.5 L127 276.1 L129 275.7 L131 275.3 L133 274.9 L135 274.5 L137 274.1 L139 273.7 L141 273.3 L143 273 L145 272.6 L147 272.3 L149 271.9 L151 271.6 L153 271.3 L155 271 L157 270.8 L159 270.5 L161 270.3 L163 270.1 L165 269.9 L167 269.7 L169 269.6 L171 269.4 L173 269.3 L175 269.2 L177 269.1 L179 269 L181 268.9 L183 268.8 L185 268.8 L187 268.7 L189 268.7 L191 268.6 L193 268.6 L195 268.6 L197 268.6 L199 268.6 L201 268.6 L203 268.6 L205 268.6 L207 268.6 L209 268.7 L211 268.7 L213 268.7 L215 268.7 L217 268.7 L219 268.7 L221 268.7 L223 268.7 L225 268.7 L227 268.7 L229 268.7 L231 268.6 L233 268.6 L235 268.5 L237 268.4 L239 268.3 L241 268.2 L243 268 L245 267.8 L247 267.7 L249 267.4 L251 267.2 L253 266.9 L255 266.7 L257 266.4 L259 266.1 L261 265.8 L263 265.5 L265 265.1 L267 264.8 L269 264.5 L271 264.2 L273 263.9 L275 263.7 L277 263.4 L279 263.1 L281 262.8 L283 262.5 L285 262.2 L287 261.9 L289 261.5 L291 261.2 L293 260.8 L295 260.3 L297 259.9 L299 259.3 L301 258.8 L303 258.2 L305 257.6 L307 256.9 L309 256.3 L311 255.6 L313 254.9 L315 254.2 L317 253.5 L319 252.9 L321 252.2 L323 251.6 L325 251 L327 250.3 L329 249.7 L331 249.2 L333 248.6 L335 248 L337 247.4 L339 246.8 L341 246.3 L343 245.7 L345 245.1 L347 244.5 L349 243.9 L351 243.3 L353 242.6 L355 242 L357 241.4 L359 240.8 L361 240.2 L363 239.7 L365 239.1 L367 238.6 L369 238.1 L371 237.6 L373 237.2 L375 236.8 L377 236.5 L379 236.2 L381 236 L383 235.8 L385 235.7 L387 235.6 L389 235.5 L391 235.5 L393 235.4 L395 235.4 L397 235.4 L399 235.4 L401 235.4 L403 235.4 L405 235.5 L407 235.6 L409 235.7 L411 235.9 L413 236.2 L415 236.6 L417 237 L419 237.5 L421 238.1 L423 238.7 L425 239.4 L427 240 L429 240.7 L431 241.3 L433 241.9 L435 242.4 L437 242.9 L439 243.5 L441 244 L443 244.6 L445 245.1 L447 245.7 L449 246.4 L451 247 L453 247.7 L455 248.3 L457 249 L459 249.6 L461 250.2 L463 250.9 L465 251.5 L467 252.1 L469 252.6 L471 253.1 L473 253.6 L475 254.1 L477 254.5 L479 254.8 L481 255.2 L483 255.5 L485 255.8 L487 256.1 L489 256.4 L491 256.6 L493 256.9 L495 257.1 L497 257.3 L499 257.6 L501 257.8 L503 258 L505 258.2 L507 258.4 L509 258.7 L511 258.9 L513 259.1 L515 259.3 L517 259.5 L519 259.7 L521 259.9 L523 260 L525 260.2 L527 260.4 L529 260.6 L531 260.8 L533 261 L535 261.2 L537 261.3 L539 261.5 L541 261.7" stroke="#ff00ff"/>
<path d="M55 283.6 L57 283.6 L59 283.5 L61 283.5 L63 283.4 L65 283.3 L67 283.3 L69 283.2 L71 283.1 L73 282.9 L75 282.8 L77 282.6 L79 282.4 L81 282.2 L83 282 L85 281.7 L87 281.4 L89 281.1 L91 280.7 L93 280.4 L95 280 L97 279.6 L99 279.2 L101 278.8 L103 278.3 L105 277.9 L107 277.5 L109 277 L111 276.5 L113 276.1 L115 275.6 L117 275.2 L119 274.7 L121 274.2 L123 273.8 L125 273.3 L127 272.9 L129 272.4 L131 272 L133 271.5 L135 271.1 L137 270.7 L139 270.3 L141 269.9 L143 269.5 L145 269.1 L147 268.7 L149 268.4 L151 268.1 L153 267.8 L155 267.5 L157 267.2 L159 266.9 L161 266.7 L163 266.5 L165 266.3 L167 266.1 L169 265.9 L171 265.7 L173 265.6 L175 265.5 L177 265.3 L179 265.2 L181 265.2 L183 265.1 L185 265 L187 265 L189 265 L191 265 L193 265 L195 265 L197 265 L199 265 L201 265.1 L203 265.1 L205 265.2 L207 265.3 L209 265.4 L211 265.5 L213 265.6 L215 265.7 L217 265.9 L219 266 L221 266.1 L223 266.3 L225 266.4 L227 266.5 L229 266.7 L231 266.8 L233 266.9 L235 267 L237 267.1 L239 267.2 L241 267.3 L243 267.3 L245 267.4 L247 267.4 L249 267.4 L251 267.4 L253 267.3 L255 267.3 L257 267.2 L259 267 L261 266.9 L263 266.7 L265 266.5 L267 266.3 L269 266 L271 265.7 L273 265.4 L275 265 L277 264.7 L279 264.3 L281 263.8 L283 263.4 L285 262.9 L287 262.4 L289 262 L291 261.4 L293 260.9 L295 260.4 L297 259.9 L299 259.3 L301 258.8 L303 258.2 L305 257.7 L307 257.1 L309 256.5 L311 255.9 L313 255.2 L315 254.5 L317 253.8 L319 253 L321 252.2 L323 251.4 L325 250.5 L327 249.6 L329 248.7 L331 247.8 L333 246.8 L335 245.9 L337 244.9 L339 244 L341 243.1 L343 242.2 L345 241.4 L347 240.5 L349 239.8 L351 239 L353 238.3 L355 237.7 L357 237 L359 236.3 L361 235.7 L363 235.1 L365 234.5 L367 234 L369 233.5 L371 233 L373 232.6 L375 232.3 L377 232 L379 231.8 L381 231.6 L383 231.6 L385 231.6 L387 231.7 L389 231.9 L391 232.1 L393 232.4 L395 232.9 L397 233.3 L399 233.9 L401 234.4 L403 235.1 L405 235.7 L407 236.3 L409 236.9 L411 237.4 L413 237.9 L415 238.4 L417 238.9 L419 239.4 L421 239.9 L423 240.4 L425 240.9 L427 241.5 L429 242 L431 242.6 L433 243.2 L435 243.8 L437 244.4 L439 244.9 L441 245.5 L443 246.1 L445 246.6 L447 247.1 L449 247.6 L451 248.1 L453 248.6 L455 249.1 L457 249.7 L459 250.2 L461 250.7 L463 251.2 L465 251.7 L467 252.2 L469 252.8 L471 253.3 L473 253.8 L475 254.3 L477 254.9 L479 255.4 L481 255.9 L483 256.3 L485 256.8 L487 257.3 L489 257.7 L491 258.1 L493 258.5 L495 258.9 L497 259.3 L499 259.6 L501 259.9 L503 260.2 L505 260.5 L507 260.8 L509 261 L511 261.3 L513 261.5 L515 261.7 L517 261.9 L519 262.1 L521 262.3 L523 262.5 L525 262.6 L527 262.8 L529 263 L531 263.1 L533 263.2 L535 263.4 L537 263.5 L539 263.7 L541 263.8" stroke="#ffff00"/>
<path d="M55 279.7 L57 279.8 L59 279.8 L61 279.9 L63 279.9 L65 280 L67 280.1 L69 280.1 L71 280.2 L73 280.2 L75 280.2 L77 280.3 L79 280.3 L81 280.3 L83 280.3 L85 280.3 L87 280.3 L89 280.3 L91 280.2 L93 280.2 L95 280.1 L97 280 L99 279.8 L101 279.7 L103 279.5 L105 279.2 L107 279 L109 278.7 L111 278.3 L113 278 L115 277.6 L117 277.2 L119 276.8 L121 276.4 L123 276 L125 275.5 L127 275.1 L129 274.6 L131 274.2 L133 273.7 L135 273.2 L137 272.8 L139 272.4 L141 271.9 L143 271.5 L145 271.1 L147 270.7 L149 270.3 L151 270 L153 269.7 L155 269.4 L157 269.1 L159 268.9 L161 268.7 L163 268.5 L165 268.3 L167 268.1 L169 268 L171 267.9 L173 267.8 L175 267.7 L177 267.6 L179 267.5 L181 267.5 L183 267.4 L185 267.4 L187 267.4 L189 267.4 L191 267.4 L193 267.4 L195 267.4 L197 267.4 L199 267.4 L201 267.4 L203 267.4 L205 267.4 L207 267.4 L209 267.4 L211 267.4 L213 267.5 L215 267.5 L217 267.5 L219 267.5 L221 267.5 L223 267.5 L225 267.5 L227 267.5 L229 267.5 L231 267.5 L233 267.5 L235 267.5 L237 267.5 L239 267.5 L241 267.5 L243 267.5 L245 267.4 L247 267.4 L249 267.4 L251 267.4 L253 267.4 L255 267.3 L257 267.3 L259 267.2 L261 267.2 L263 267.1 L265 267.1 L267 267 L269 266.8 L271 266.7 L273 266.6 L275 266.4 L277 266.3 L279 266.1 L281 265.9 L283 265.7 L285 265.5 L287 265.3 L289 265.1 L291 265 L293 264.8 L295 264.6 L297 264.5 L299 264.3 L301 264.2 L303 264.1 L305 263.9 L307 263.8 L309 263.5 L311 263.2 L313 262.9 L315 262.4 L317 261.9 L319 261.2 L321 260.4 L323 259.4 L325 258.2 L327 256.9 L329 255.5 L331 253.9 L333 252.2 L335 250.6 L337 248.9 L339 247.2 L341 245.7 L343 244.2 L345 242.8 L347 241.7 L349 240.7 L351 239.9 L353 239.2 L355 238.7 L357 238.2 L359 237.8 L361 237.4 L363 237.1 L365 236.7 L367 236.4 L369 236.1 L371 235.8 L373 235.6 L375 235.4 L377 235.2 L379 235.1 L381 235.1 L383 235.1 L385 235.1 L387 235.2 L389 235.4 L391 235.6 L393 235.8 L395 236.1 L397 236.3 L399 236.7 L401 237 L403 237.4 L405 237.8 L407 238.2 L409 238.6 L411 239.1 L413 239.5 L415 240 L417 240.5 L419 240.9 L421 241.4 L423 241.8 L425 242.2 L427 242.7 L429 243.1 L431 243.5 L433 244 L435 244.5 L437 245 L439 245.5 L441 246.1 L443 246.7 L445 247.4 L447 248.2 L449 248.9 L451 249.7 L453 250.5 L455 251.2 L457 251.9 L459 252.6 L461 253.2 L463 253.7 L465 254.1 L467 254.5 L469 254.9 L471 255.2 L473 255.4 L475 255.7 L477 255.9 L479 256 L481 256.2 L483 256.3 L485 256.4 L487 256.5 L489 256.6 L491 256.7 L493 256.8 L495 256.9 L497 257.1 L499 257.2 L501 257.4 L503 257.5 L505 257.7 L507 257.9 L509 258.1 L511 258.3 L513 258.5 L515 258.7 L517 258.9 L519 259.1 L521 259.3 L523 259.5 L525 259.8 L527 260 L529 260.2 L531 260.5 L533 260.7 L535 261 L537 261.2 L539 261.5 L541 261.7" stroke="#a2142f"/>
<path d="M55 279.4 L57 279.4 L59 279.5 L61 279.5 L63 279.6 L65 279.6 L67 279.7 L69 279.7 L71 279.8 L73 279.8 L75 279.9 L77 279.9 L79 280 L81 280 L83 280.1 L85 280.2 L87 280.2 L89 280.2 L91 280.2 L93 280.2 L95 280.2 L97 280.1 L99 280.1 L101 279.9 L103 279.8 L105 279.5 L107 279.3 L109 279 L111 278.7 L113 278.3 L115 277.9 L117 277.5 L119 277.1 L121 276.6 L123 276.1 L125 275.6 L127 275.1 L129 274.6 L131 274.1 L133 273.6 L135 273 L137 272.5 L139 272 L141 271.5 L143 271 L145 270.5 L147 270.1 L149 269.7 L151 269.3 L153 268.9 L155 268.5 L157 268.2 L159 267.9 L161 267.6 L163 267.4 L165 267.2 L167 267 L169 266.8 L171 266.7 L173 266.6 L175 266.5 L177 266.4 L179 266.3 L181 266.3 L183 266.3 L185 266.3 L187 266.3 L189 266.4 L191 266.4 L193 266.5 L195 266.6 L197 266.7 L199 266.8 L201 266.9 L203 267 L205 267.2 L207 267.3 L209 267.5 L211 267.6 L213 267.8 L215 268 L217 268.2 L219 268.4 L221 268.6 L223 268.8 L225 269 L227 269.2 L229 269.4 L231 269.6 L233 269.8 L235 269.9 L237 270.1 L239 270.3 L241 270.4 L243 270.6 L245 270.7 L247 270.9 L249 271 L251 271.1 L253 271.2 L255 271.2 L257 271.3 L259 271.3 L261 271.4 L263 271.4 L265 271.4 L267 271.4 L269 271.4 L271 271.4 L273 271.4 L275 271.4 L277 271.3 L279 271.3 L281 271.2 L283 271.1 L285 271 L287 270.8 L289 270.6 L291 270.5 L293 270.2 L295 270 L297 269.7 L299 269.3 L301 269 L303 268.6 L305 268.1 L307 267.7 L309 267.2 L311 266.7 L313 266.2 L315 265.7 L317 265.2 L319 264.7 L321 264.2 L323 263.8 L325 263.3 L327 262.8 L329 262.3 L331 261.9 L333 261.4 L335 260.9 L337 260.3 L339 259.8 L341 259.2 L343 258.6 L345 258 L347 257.4 L349 256.7 L351 256 L353 255.2 L355 254.5 L357 253.7 L359 253 L361 252.2 L363 251.4 L365 250.7 L367 250 L369 249.3 L371 248.6 L373 248 L375 247.5 L377 247 L379 246.5 L381 246.1 L383 245.8 L385 245.5 L387 245.3 L389 245.1 L391 245 L393 244.9 L395 244.8 L397 244.7 L399 244.6 L401 244.5 L403 244.5 L405 244.4 L407 244.3 L409 244.3 L411 244.3 L413 244.2 L415 244.2 L417 244.2 L419 244.1 L421 244.1 L423 244.1 L425 244.1 L427 244.1 L429 244.1 L431 244.2 L433 244.2 L435 244.3 L437 244.3 L439 244.4 L441 244.6 L443 244.7 L445 244.9 L447 245.1 L449 245.3 L451 245.6 L453 245.8 L455 246.1 L457 246.4 L459 246.7 L461 246.9 L463 247.2 L465 247.5 L467 247.8 L469 248.2 L471 248.5 L473 248.8 L475 249.1 L477 249.4 L479 249.8 L481 250.1 L483 250.4 L485 250.7 L487 251 L489 251.4 L491 251.7 L493 252 L495 252.3 L497 252.7 L499 253 L501 253.3 L503 253.6 L505 253.9 L507 254.2 L509 254.5 L511 254.8 L513 255.1 L515 255.4 L517 255.7 L519 256 L521 256.3 L523 256.6 L525 256.9 L527 257.2 L529 257.5 L531 257.8 L533 258.1 L535 258.4 L537 258.7 L539 259 L541 259.3" stroke="#0072bd"/>
</g>
<rect x="55.0" y="193" width="486.0" height="120" fill="none" stroke="#555555" stroke-width="1"/>
<line x1="55" y1="313" x2="55" y2="308.5" stroke="#555555"/>
<line x1="55" y1="193" x2="55" y2="197.5" stroke="#555555"/>
<line x1="103.6" y1="313" x2="103.6" y2="308.5" stroke="#555555"/>
<line x1="103.6" y1="193" x2="103.6" y2="197.5" stroke="#555555"/>
<line x1="152.2" y1="313" x2="152.2" y2="308.5" stroke="#555555"/>
<line x1="152.2" y1="193" x2="152.2" y2="197.5" stroke="#555555"/>
<line x1="200.8" y1="313" x2="200.8" y2="308.5" stroke="#555555"/>
<line x1="200.8" y1="193" x2="200.8" y2="197.5" stroke="#555555"/>
<line x1="249.4" y1="313" x2="249.4" y2="308.5" stroke="#555555"/>
<line x1="249.4" y1="193" x2="249.4" y2="197.5" stroke="#555555"/>
<line x1="298" y1="313" x2="298" y2="308.5" stroke="#555555"/>
<line x1="298" y1="193" x2="298" y2="197.5" stroke="#555555"/>
<line x1="346.6" y1="313" x2="346.6" y2="308.5" stroke="#555555"/>
<line x1="346.6" y1="193" x2="346.6" y2="197.5" stroke="#555555"/>
<line x1="395.2" y1="313" x2="395.2" y2="308.5" stroke="#555555"/>
<line x1="395.2" y1="193" x2="395.2" y2="197.5" stroke="#555555"/>
<line x1="443.8" y1="313" x2="443.8" y2="308.5" stroke="#555555"/>
<line x1="443.8" y1="193" x2="443.8" y2="197.5" stroke="#555555"/>
<line x1="492.4" y1="313" x2="492.4" y2="308.5" stroke="#555555"/>
<line x1="492.4" y1="193" x2="492.4" y2="197.5" stroke="#555555"/>
<line x1="541" y1="313" x2="541" y2="308.5" stroke="#555555"/>
<line x1="541" y1="193" x2="541" y2="197.5" stroke="#555555"/>
<line x1="55.0" y1="313" x2="59.5" y2="313" stroke="#555555"/>
<line x1="541.0" y1="313" x2="536.5" y2="313" stroke="#555555"/>
<line x1="55.0" y1="283" x2="59.5" y2="283" stroke="#555555"/>
<line x1="541.0" y1="283" x2="536.5" y2="283" stroke="#555555"/>
<line x1="55.0" y1="253" x2="59.5" y2="253" stroke="#555555"/>
<line x1="541.0" y1="253" x2="536.5" y2="253" stroke="#555555"/>
<line x1="55.0" y1="223" x2="59.5" y2="223" stroke="#555555"/>
<line x1="541.0" y1="223" x2="536.5" y2="223" stroke="#555555"/>
<line x1="55.0" y1="193" x2="59.5" y2="193" stroke="#555555"/>
<line x1="541.0" y1="193" x2="536.5" y2="193" stroke="#555555"/>
<text x="55" y="326.3" text-anchor="middle" font-size="9" fill="#4a4a4a" class="tk">3</text>
<text x="103.6" y="326.3" text-anchor="middle" font-size="9" fill="#4a4a4a" class="tk">4</text>
<text x="152.2" y="326.3" text-anchor="middle" font-size="9" fill="#4a4a4a" class="tk">5</text>
<text x="200.8" y="326.3" text-anchor="middle" font-size="9" fill="#4a4a4a" class="tk">6</text>
<text x="249.4" y="326.3" text-anchor="middle" font-size="9" fill="#4a4a4a" class="tk">7</text>
<text x="298" y="326.3" text-anchor="middle" font-size="9" fill="#4a4a4a" class="tk">8</text>
<text x="346.6" y="326.3" text-anchor="middle" font-size="9" fill="#4a4a4a" class="tk">9</text>
<text x="395.2" y="326.3" text-anchor="middle" font-size="9" fill="#4a4a4a" class="tk">10</text>
<text x="443.8" y="326.3" text-anchor="middle" font-size="9" fill="#4a4a4a" class="tk">11</text>
<text x="492.4" y="326.3" text-anchor="middle" font-size="9" fill="#4a4a4a" class="tk">12</text>
<text x="541" y="326.3" text-anchor="middle" font-size="9" fill="#4a4a4a" class="tk">13</text>
<text x="50.5" y="316.4" text-anchor="end" font-size="9" fill="#4a4a4a" class="tk">-5</text>
<text x="50.5" y="286.4" text-anchor="end" font-size="9" fill="#4a4a4a" class="tk">0</text>
<text x="50.5" y="256.4" text-anchor="end" font-size="9" fill="#4a4a4a" class="tk">5</text>
<text x="50.5" y="226.4" text-anchor="end" font-size="9" fill="#4a4a4a" class="tk">10</text>
<text x="50.5" y="196.4" text-anchor="end" font-size="9" fill="#4a4a4a" class="tk">15</text>
<text transform="translate(35.2 85) rotate(-90)" text-anchor="middle" font-size="13" letter-spacing="0.5" fill="#222">P [MW]</text>
<text transform="translate(29 294.6) rotate(-90)" font-size="13.5" letter-spacing="0.6" fill="#222">&#916;P/P</text>
<text transform="translate(36.3 259.8) rotate(-90)" font-size="10.5" letter-spacing="0.2" fill="#222">FW1</text>
<text transform="translate(28.5 233.2) rotate(-90)" font-size="13.5" letter-spacing="0.3" fill="#222">[%]</text>
<text x="298.5" y="343.5" text-anchor="middle" font-size="13" letter-spacing="0.35" fill="#222">V [m/s]</text>
<rect x="386" y="67.5" width="144.5" height="120.69999999999999" fill="#fff" stroke="#555555" stroke-width="1"/>
<line x1="388.5" y1="75.6" x2="416.7" y2="75.6" stroke="#ff0000" stroke-width="2.2"/>
<text x="419.1" y="80" font-size="11.2" fill="#1a1a1a">0-45 degree angle</text>
<line x1="388.5" y1="90.6" x2="416.7" y2="90.6" stroke="#0000ff" stroke-width="2.2"/>
<text x="419.1" y="95" font-size="11.2" fill="#1a1a1a">45-90 degree angle</text>
<line x1="388.5" y1="105.6" x2="416.7" y2="105.6" stroke="#00ff00" stroke-width="2.2"/>
<text x="419.1" y="110" font-size="11.2" fill="#1a1a1a">90-135 degree angle</text>
<line x1="388.5" y1="120.6" x2="416.7" y2="120.6" stroke="#00ffff" stroke-width="2.2"/>
<text x="419.1" y="125" font-size="11.2" fill="#1a1a1a">135-180 degree angle</text>
<line x1="388.5" y1="135.6" x2="416.7" y2="135.6" stroke="#ff00ff" stroke-width="2.2"/>
<text x="419.1" y="140" font-size="11.2" fill="#1a1a1a">180-225 degree angle</text>
<line x1="388.5" y1="150.6" x2="416.7" y2="150.6" stroke="#ffff00" stroke-width="2.2"/>
<text x="419.1" y="155" font-size="11.2" fill="#1a1a1a">225-270 degree angle</text>
<line x1="388.5" y1="165.6" x2="416.7" y2="165.6" stroke="#a2142f" stroke-width="2.2"/>
<text x="419.1" y="170" font-size="11.2" fill="#1a1a1a">270-315 degree angle</text>
<line x1="388.5" y1="180.6" x2="416.7" y2="180.6" stroke="#0072bd" stroke-width="2.2"/>
<text x="419.1" y="185" font-size="11.2" fill="#1a1a1a">315-360 degree angle</text>
</svg>
</body></html>
